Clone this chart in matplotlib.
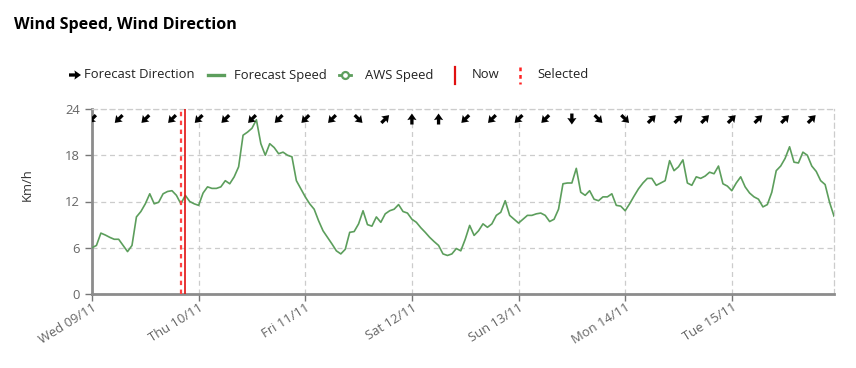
import numpy as np
import pandas as pd
import matplotlib
matplotlib.use("Agg")
import matplotlib.pyplot as plt
import matplotlib.dates as mdates
from matplotlib.lines import Line2D

plt.rcParams['font.family'] = ['Open Sans', 'DejaVu Sans']

# Hourly forecast wind speed (km/h), starting Wed 09/11 00:00
speed = [
    6.0, 6.3, 7.9, 7.65, 7.35, 7.1, 7.1, 6.3, 5.5, 6.3, 10.0, 10.7,
    11.7, 13.0, 11.7, 11.9, 13.0, 13.3, 13.4, 12.8, 11.7, 12.8, 12.0, 11.7,
    11.5, 13.1, 13.9, 13.7, 13.7, 13.9, 14.7, 14.3, 15.2, 16.5, 20.6, 21.0,
    21.5, 22.6, 19.5, 18.0, 19.5, 19.0, 18.2, 18.4, 18.0, 17.8, 14.7, 13.65,
    12.6, 11.7, 11.0, 9.5, 8.2, 7.35, 6.5, 5.6, 5.2, 5.8, 8.0, 8.1,
    9.1, 10.8, 9.0, 8.8, 10.0, 9.3, 10.4, 10.8, 11.0, 11.6, 10.7, 10.5,
    9.7, 9.3, 8.6, 8.0, 7.35, 6.8, 6.3, 5.2, 5.0, 5.2, 5.9, 5.6,
    7.1, 8.9, 7.6, 8.2, 9.1, 8.65, 9.1, 10.2, 10.6, 12.1, 10.2, 9.7,
    9.2, 9.7, 10.2, 10.2, 10.4, 10.5, 10.2, 9.4, 9.7, 11.0, 14.3, 14.4,
    14.4, 16.3, 13.2, 12.8, 13.4, 12.3, 12.1, 12.6, 12.6, 13.0, 11.5, 11.4,
    10.8, 11.7, 12.7, 13.65, 14.4, 15.0, 15.0, 14.1, 14.4, 14.7, 17.3, 16.0,
    16.5, 17.4, 14.4, 14.1, 15.2, 15.0, 15.3, 15.8, 15.6, 16.6, 14.3, 14.0,
    13.4, 14.4, 15.2, 13.9, 13.1, 12.6, 12.3, 11.3, 11.6, 13.2, 16.0, 16.6,
    17.6, 19.1, 17.1, 17.0, 18.4, 18.0, 16.6, 15.9, 14.7, 14.2, 11.9, 10.1,
]
times = pd.date_range("2022-11-09 00:00", periods=len(speed), freq="h")

# Forecast direction every 6 hours, as the compass bearing the arrow points to
dir_to = [225] * 10 + [135, 45, 0, 0, 225, 225, 225, 225, 180, 135, 135] + [45] * 7
dir_times = pd.date_range("2022-11-09 00:00", periods=len(dir_to), freq="6h")
arrow_level = 22.7

now_time = pd.Timestamp("2022-11-09 21:00")
selected_time = pd.Timestamp("2022-11-09 20:00")

green = '#5c9e5c'
grey_text = '#666666'

# arrow glyph style shared by chart and legend
arrow_kw = dict(angles='uv', pivot='middle', scale_units='dots', scale=1, units='dots',
                width=3.3, headwidth=2.8, headlength=2.0, headaxislength=1.8, color='black')

fig = plt.figure(figsize=(8.56, 3.68), dpi=100)
ax = fig.add_axes([92 / 856, 1 - 294 / 368, (834 - 92) / 856, (294 - 109) / 368])

# speed line
ax.plot(times, speed, color=green, linewidth=1.2, zorder=3)

# now / selected markers
ax.axvline(selected_time, color='#ff4444', linewidth=1.6, linestyle=(0, (2, 2)), zorder=4)
ax.axvline(now_time, color='#e01010', linewidth=1.2, zorder=4)

# direction arrows
xd = mdates.date2num(dir_times)
rad = np.radians(dir_to)
u = np.sin(rad)
v = np.cos(rad)
ax.quiver(xd, np.full(len(xd), arrow_level), u * 11, v * 11, zorder=5, **arrow_kw)

# axes styling
ax.set_xlim(times[0], times[-1])
ax.set_ylim(0, 24)
ax.set_yticks([0, 6, 12, 18, 24])
ax.xaxis.set_major_locator(mdates.DayLocator())
ax.xaxis.set_major_formatter(mdates.DateFormatter('%a %d/%m'))
ax.grid(True, color='#cccccc', linestyle=(0, (4, 3)), linewidth=0.9)
ax.tick_params(axis='both', colors='#777777', labelcolor=grey_text, labelsize=9.4, length=5, width=1)
ax.tick_params(axis='x', pad=0)
for lbl in ax.get_xticklabels():
    lbl.set_rotation(32)
    lbl.set_ha('right')
    lbl.set_va('top')
    lbl.set_rotation_mode('anchor')

for side in ['left', 'bottom']:
    ax.spines[side].set_color('#8c8c8c')
    ax.spines[side].set_linewidth(2)
for side in ['top', 'right']:
    ax.spines[side].set_color('#cccccc')
    ax.spines[side].set_linestyle((0, (4, 3)))
    ax.spines[side].set_linewidth(0.9)

fig.text(27 / 856, 1 - 185 / 368, 'Km/h', rotation=90, ha='center', va='center',
         fontsize=9.4, color='#333333')

# title
fig.text(14 / 856, 1 - 25 / 368, 'Wind Speed, Wind Direction', fontsize=11.6, fontweight='bold',
         ha='left', va='center', color='black')

# legend drawn in pixel coords of an overlay axes
lg = fig.add_axes([0, 0, 1, 1])
lg.set_xlim(0, 856)
lg.set_ylim(368, 0)
lg.axis('off')
ly = 75
lg.quiver([75], [ly], [12], [0], **arrow_kw)
lg.text(84, ly, 'Forecast Direction', fontsize=9.4, va='center', color='#222222')
lg.add_line(Line2D([208, 224], [ly, ly], color=green, linewidth=2.4))
lg.text(234, ly, 'Forecast Speed', fontsize=9.4, va='center', color='#222222')
lg.add_line(Line2D([339, 351], [ly, ly], color=green, linewidth=2))
lg.plot([345], [ly], marker='o', markersize=5, markerfacecolor='white', markeredgecolor=green, markeredgewidth=1.6)
lg.text(365, ly, 'AWS Speed', fontsize=9.4, va='center', color='#222222')
lg.add_line(Line2D([455, 455], [67, 84], color='#e01010', linewidth=1.6))
lg.text(472, ly, 'Now', fontsize=9.4, va='center', color='#222222')
lg.add_line(Line2D([520, 520], [67, 84], color='#ff2222', linewidth=1.8, linestyle=(0, (1.5, 1.5))))
lg.text(537, ly, 'Selected', fontsize=9.4, va='center', color='#222222')

fig.savefig('out.png', dpi=100)
